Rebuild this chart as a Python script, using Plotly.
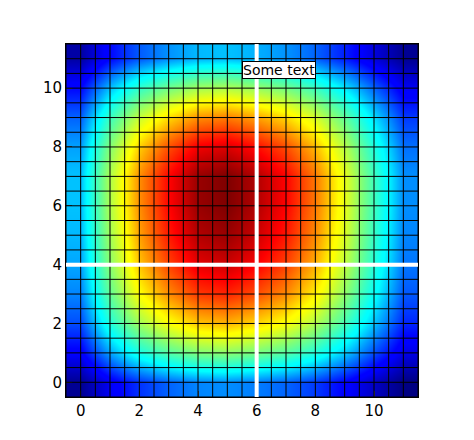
import numpy as np
import plotly.graph_objects as go

# profiles (0..1), image is their product
x_profile = [0.36, 0.6, 0.78, 0.9, 0.98, 1.0, 0.96, 0.9, 0.8, 0.65, 0.48, 0.32]
y_profile = [0.32, 0.56, 0.75, 0.87, 0.94, 0.98, 1.0, 1.0, 0.93, 0.8, 0.6, 0.36]
tick_vals = [0, 2, 4, 6, 8, 10]
grid_step = 0.5
vline_x = 6
hline_y = 4
label = "Some text"

z = np.outer(y_profile, x_profile)

jet = [[0, "#00007f"], [0.11, "#0000ff"], [0.125, "#0000ff"], [0.34, "#00ffff"],
       [0.35, "#00ffff"], [0.5, "#7dff7a"], [0.64, "#ffff00"], [0.65, "#ffff00"],
       [0.89, "#ff0000"], [1, "#7f0000"]]

fig = go.Figure(go.Heatmap(z=z, x=list(range(12)), y=list(range(12)),
                           colorscale=jet, zsmooth="best", showscale=False,
                           zmin=0.1, zmax=1))

shapes = []
for g in np.arange(-0.5, 11.5 + 1e-9, grid_step):
    shapes.append(dict(type="line", x0=g, x1=g, y0=-0.5, y1=11.5, line=dict(color="black", width=1), layer="above"))
    shapes.append(dict(type="line", y0=g, y1=g, x0=-0.5, x1=11.5, line=dict(color="black", width=1), layer="above"))
shapes.append(dict(type="line", x0=vline_x, x1=vline_x, y0=-0.5, y1=11.5, line=dict(color="white", width=4)))
shapes.append(dict(type="line", y0=hline_y, y1=hline_y, x0=-0.5, x1=11.5, line=dict(color="white", width=4)))

fig.update_layout(
    width=474, height=440,
    margin=dict(l=58, r=64, t=36, b=51),
    paper_bgcolor="white", plot_bgcolor="white",
    font=dict(family="DejaVu Sans", size=15, color="black"),
    shapes=shapes,
    annotations=[dict(x=5.5, y=10.6, text=label, showarrow=False, xanchor="left",
                      bgcolor="white", bordercolor="black", borderwidth=1, borderpad=0,
                      font=dict(size=14))],
)
axis = dict(range=[-0.5, 11.5], tickvals=tick_vals, ticks="inside", ticklen=6,
            showgrid=False, zeroline=False, showline=True, linecolor="black", mirror=True)
fig.update_xaxes(**axis)
fig.update_yaxes(**axis)
fig.write_html("out.html")
